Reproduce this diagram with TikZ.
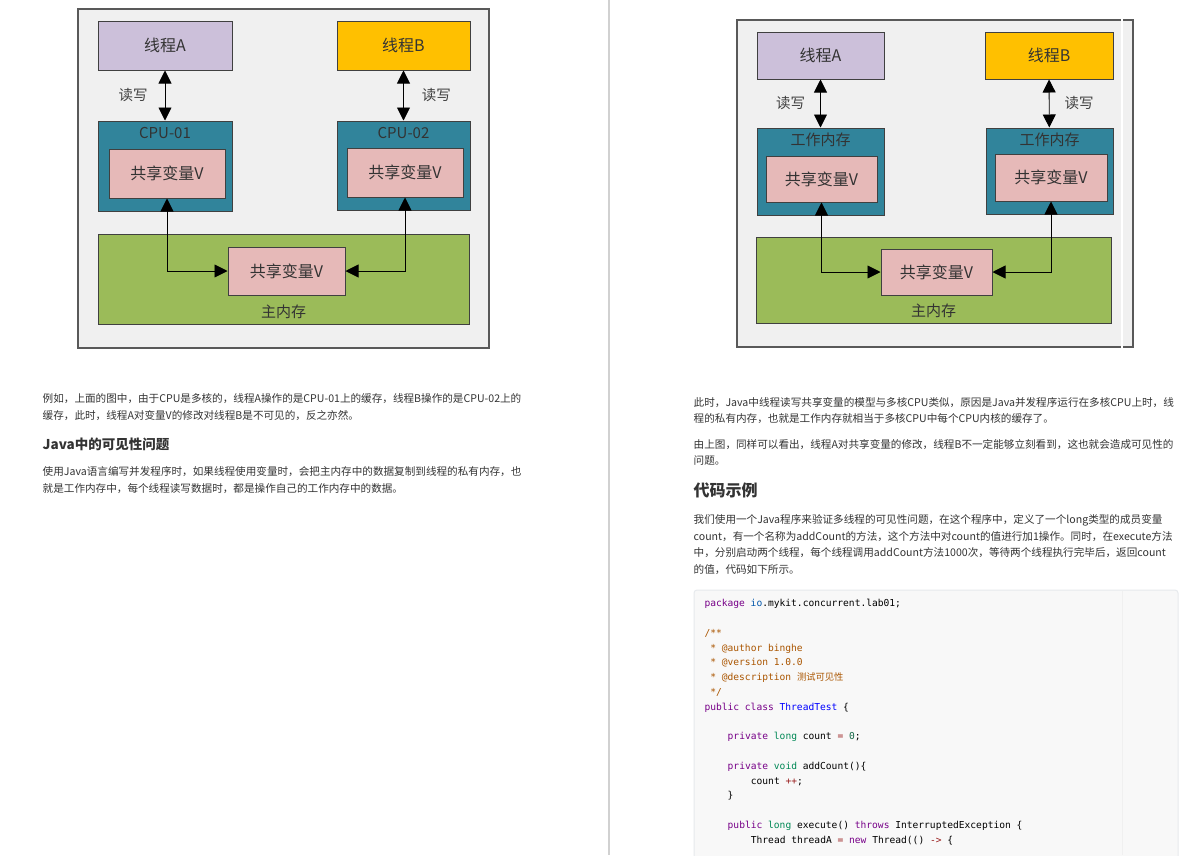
\documentclass[tikz,border=0pt]{standalone}
\usepackage{fontspec}
\setmainfont{Noto Sans CJK SC}
\newfontfamily\cjk{Noto Sans CJK SC}
\newfontfamily\codefont{DejaVu Sans Mono}
\usetikzlibrary{arrows.meta, positioning}

\definecolor{thrpurple}{HTML}{CCC0DA}
\definecolor{thryellow}{HTML}{FFC000}
\definecolor{coreteal}{HTML}{31849B}
\definecolor{varpink}{HTML}{E6B9B8}
\definecolor{memgreen}{HTML}{9BBB59}
\definecolor{framegray}{HTML}{F0F0F0}
\definecolor{bodytext}{HTML}{333333}
\definecolor{codebg}{HTML}{F8F8F8}
\definecolor{codeline}{HTML}{E7EAED}
\definecolor{kwc}{HTML}{770088}
\definecolor{tpc}{HTML}{008855}
\definecolor{cmc}{HTML}{AA5500}
\definecolor{dfc}{HTML}{0000FF}
\definecolor{vrc}{HTML}{0055AA}
\definecolor{nmc}{HTML}{116644}
\definecolor{opc}{HTML}{981A1A}

\newcommand{\kw}[1]{\textcolor{kwc}{#1}}
\newcommand{\tp}[1]{\textcolor{tpc}{#1}}
\newcommand{\cm}[1]{\textcolor{cmc}{#1}}
\newcommand{\op}[1]{\textcolor{opc}{#1}}

\begin{document}
\begin{tikzpicture}[x=1pt, y=-1pt,
        frame/.style={draw=black!65, fill=framegray, line width=1.2pt, inner sep=0pt},
        box/.style={draw=black!75, line width=1pt, inner sep=0pt, text=black!80, font=\fontsize{16}{16}\selectfont},
        thra/.style={box, fill=thrpurple},
        thrb/.style={box, fill=thryellow},
        core/.style={box, fill=coreteal},
        var/.style={box, fill=varpink},
        mem/.style={box, fill=memgreen},
        tag/.style={inner sep=0pt, text=black!80, font=\fontsize{15}{15}\selectfont},
        rw/.style={inner sep=0pt, text=black!75, font=\fontsize{14.5}{14.5}\selectfont},
        link/.style={line width=0.9pt, black, {Triangle[length=13pt,width=13pt]}-{Triangle[length=13pt,width=13pt]}},
        para/.style={anchor=west, inner sep=0pt, text=bodytext, font=\fontsize{10.6}{10.6}\selectfont},
        head/.style={anchor=west, inner sep=0pt, text=bodytext, font=\bfseries\fontsize{13.5}{13.5}\selectfont},
        code/.style={anchor=west, inner sep=0pt, font=\codefont\fontsize{9.6}{9.6}\selectfont}
        ]
        \useasboundingbox[fill=white] (0,0) rectangle (1187,855);

        % page divider
        \draw[black!18, line width=1.5pt] (609,0) -- (609,855);

        % left diagram: cpu caches
        \node[frame, minimum width=411pt, minimum height=339pt] (frameL) at (283.5,178.5) {};
        \node[thra, minimum width=134pt, minimum height=49pt] (thrA) at (165,45.5) {线程A};
        \node[thrb, minimum width=133pt, minimum height=49pt] (thrB) at (403.5,45.5) {线程B};
        \node[core, minimum width=134pt, minimum height=90pt] (cpuA) at (165,166) {};
        \node[core, minimum width=133pt, minimum height=89pt] (cpuB) at (403.5,165.5) {};
        \node[tag] (cpuAlbl) at ([yshift=-12pt]cpuA.north) {CPU-01};
        \node[tag] (cpuBlbl) at ([yshift=-12pt]cpuB.north) {CPU-02};
        \node[var, minimum width=116pt, minimum height=49pt] (varA) at (167,173.5) {共享变量V};
        \node[var, minimum width=116pt, minimum height=49pt] (varB) at (405,172.5) {共享变量V};
        \node[mem, minimum width=371pt, minimum height=90pt] (memL) at (283.5,279) {};
        \node[var, minimum width=117pt, minimum height=48pt] (varM) at (286.5,271) {共享变量V};
        \node[tag] (memLlbl) at ([yshift=13pt]memL.south) {主内存};

        \draw[link] (thrA) -- node[rw, left=17pt] (rwA) {读写} (cpuA);
        \draw[link] (thrB) -- node[rw, right=18pt] (rwB) {读写} (cpuB);
        \draw[link] (varA.south) |- (varM.west);
        \draw[link] (varB.south) |- (varM.east);

        % right diagram: working memory
        \node[frame, minimum width=396pt, minimum height=327pt] (frameR) at (935,183.5) {};
        \draw[white, line width=1.5pt] (1122,18) -- (1122,349);
        \node[thra, minimum width=127pt, minimum height=47pt] (thrA2) at (820.5,55.5) {线程A};
        \node[thrb, minimum width=128pt, minimum height=47pt] (thrB2) at (1049,55.5) {线程B};
        \node[core, minimum width=127pt, minimum height=87pt] (wmA) at (820.5,171.5) {};
        \node[core, minimum width=127pt, minimum height=86pt] (wmB) at (1049.5,171) {};
        \node[tag] (wmAlbl) at ([yshift=-12.7pt]wmA.north) {工作内存};
        \node[tag] (wmBlbl) at ([yshift=-12.7pt]wmB.north) {工作内存};
        \node[var, minimum width=111pt, minimum height=46pt] (varA2) at (821.5,179) {共享变量V};
        \node[var, minimum width=112pt, minimum height=47pt] (varB2) at (1051,177.5) {共享变量V};
        \node[mem, minimum width=355pt, minimum height=86pt] (memR) at (933.5,280) {};
        \node[var, minimum width=111pt, minimum height=46pt] (varM2) at (936.5,272) {共享变量V};
        \node[tag] (memRlbl) at ([yshift=13pt]memR.south) {主内存};

        \draw[link] (thrA2) -- node[rw, left=15pt] (rwA2) {读写} (wmA);
        \draw[link] (thrB2) -- node[rw, right=15pt] (rwB2) {读写} (wmB);
        \draw[link] (varA2.south) |- (varM2.west);
        \draw[link] (varB2.south) |- (varM2.east);

        % left column text
        \node[para] (l1) at (42.5,399) {例如，上面的图中，由于CPU是多核的，线程A操作的是CPU-01上的缓存，线程B操作的是CPU-02上的};
        \node[para] (l2) at (42.5,416) {缓存，此时，线程A对变量V的修改对线程B是不可见的，反之亦然。};
        \node[head] (lh) at (42.5,444) {Java中的可见性问题};
        \node[para] (l3) at (42.5,472) {使用Java语言编写并发程序时，如果线程使用变量时，会把主内存中的数据复制到线程的私有内存，也};
        \node[para] (l4) at (42.5,489) {就是工作内存中，每个线程读写数据时，都是操作自己的工作内存中的数据。};

        % right column text
        \node[para] (r1) at (693.5,403) {此时，Java中线程读写共享变量的模型与多核CPU类似，原因是Java并发程序运行在多核CPU上时，线};
        \node[para] (r2) at (693.5,419) {程的私有内存，也就是工作内存就相当于多核CPU中每个CPU内核的缓存了。};
        \node[para] (r3) at (693.5,445) {由上图，同样可以看出，线程A对共享变量的修改，线程B不一定能够立刻看到，这也就会造成可见性的};
        \node[para] (r4) at (693.5,461) {问题。};
        \node[head, font=\bfseries\fontsize{16}{16}\selectfont] (rh) at (693.5,490) {代码示例};
        \node[para] (r5) at (693.5,520) {我们使用一个Java程序来验证多线程的可见性问题，在这个程序中，定义了一个long类型的成员变量};
        \node[para] (r6) at (693.5,537) {count，有一个名称为addCount的方法，这个方法中对count的值进行加1操作。同时，在execute方法};
        \node[para] (r7) at (693.5,553) {中，分别启动两个线程，每个线程调用addCount方法1000次，等待两个线程执行完毕后，返回count};
        \node[para] (r8) at (693.5,570) {的值，代码如下所示。};

        % code block
        \fill[codebg, rounded corners=3pt] (694,860) -- (694,590) -- (1178,590) -- (1178,860);
        \draw[codeline, line width=1pt, rounded corners=3pt] (694,860) -- (694,590) -- (1178,590) -- (1178,860);
        \draw[black!6, line width=0.8pt] (1122.5,591) -- (1122.5,855);
        \node[code] (c1) at (704.3,604) {\kw{package} \textcolor{vrc}{io}.mykit.concurrent.lab01;};
        \node[code] (c2) at (704.3,633) {\cm{/**}};
        \node[code] (c3) at (710.1,649) {\cm{* @author binghe}};
        \node[code] (c4) at (710.1,663) {\cm{* @version 1.0.0}};
        \node[code] (c5) at (710.1,678) {\cm{* @description {\cjk\fontsize{9.3}{9.3}\selectfont 测试可见性}}};
        \node[code] (c6) at (710.1,692) {\cm{*/}};
        \node[code] (c7) at (704.3,708) {\kw{public} \kw{class} \textcolor{dfc}{ThreadTest} \{};
        \node[code] (c8) at (727.5,737) {\kw{private} \tp{long} count \op{=} \textcolor{nmc}{0};};
        \node[code] (c9) at (727.5,767) {\kw{private} \tp{void} addCount()\{};
        \node[code] (c10) at (750.7,782) {count \op{++};};
        \node[code] (c11) at (727.5,796) {\}};
        \node[code] (c12) at (727.5,826) {\kw{public} \tp{long} execute() \kw{throws} InterruptedException \{};
        \node[code] (c13) at (750.7,841) {Thread threadA \op{=} \kw{new} Thread(() \op{->} \{};
    \end{tikzpicture}
\end{document}
